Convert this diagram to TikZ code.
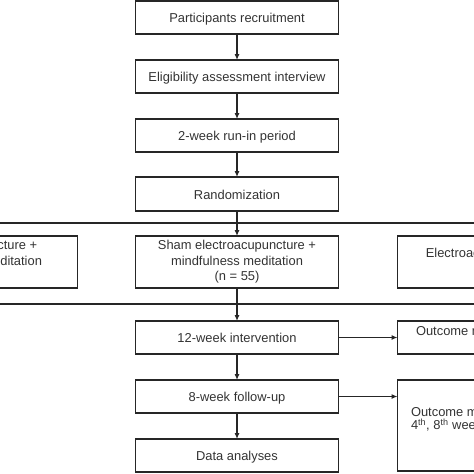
\documentclass[tikz,border=0pt]{standalone}
\usepackage{fontspec}
\setmainfont{Liberation Sans}
\usetikzlibrary{arrows.meta,positioning}

\begin{document}
\begin{tikzpicture}[x=1pt,y=-1pt,node distance=26pt,
	every node/.style={font=\fontsize{12.9}{15.5}\selectfont,text=black!80}]

	\tikzstyle{box}=[draw=black!85,line width=1.5pt,minimum width=203pt,minimum height=33pt,inner sep=0pt,outer sep=0pt,align=center]
	\tikzstyle{stepbox}=[box,text height=10pt,text depth=0pt]
	\tikzstyle{group}=[box,minimum height=52pt]
	\tikzstyle{link}=[line width=1.1pt,draw=black!85,-{Latex[length=6pt,width=5pt]}]
	\tikzstyle{frame}=[line width=1.3pt,draw=black!85]

	\useasboundingbox (0,0) rectangle (474,474);
	\clip (0,0) rectangle (474,474);

	% main flow
	\node[stepbox] (recruit) at (237,17.5) {Participants recruitment};
	\node[stepbox,below=of recruit] (elig) {Eligibility assessment interview};
	\node[stepbox,below=of elig] (runin) {2-week run-in period};
	\node[stepbox,below=25pt of runin,minimum height=34pt] (random) {Randomization};

	% arms
	\node[group,below=25pt of random] (sham) {Sham electroacupuncture +\\ mindfulness meditation\\ (n = 55)};
	\node[group,left=58pt of sham] (eamm) {Electroacupuncture +\\ mindfulness meditation\\ (n = 55)};
	\node[group,right=59pt of sham] (ea) {Electroacupuncture alone\\ (n = 55)};
	\draw[frame] (-20,223) rectangle (494,304);

	% follow-up
	\node[stepbox,below=33pt of sham] (twelve) {12-week intervention};
	\node[stepbox,below=of twelve] (follow) {8-week follow-up};
	\node[stepbox,below=of follow] (data) {Data analyses};

	% outcomes
	\node[box,right=59pt of twelve] (out1) {};
	\node[anchor=base west] (out1txt) at ([xshift=15pt,yshift=2pt]out1.west) {Outcome measurement};
	\node[box,below=of out1,minimum height=91pt] (out2) {};
	\node[anchor=north west,align=left,font=\fontsize{12.9}{13}\selectfont] (out2txt) at ([xshift=10pt,yshift=-24pt]out2.north west)
		{Outcome measurement\\ 4\textsuperscript{th}, 8\textsuperscript{th} week};

	\draw[link] (recruit) -- (elig);
	\draw[link] (elig) -- (runin);
	\draw[link] (runin) -- (random);
	\draw[link] (random) -- (sham);
	\draw[link] (sham) -- (twelve);
	\draw[link] (twelve) -- (follow);
	\draw[link] (follow) -- (data);
	\draw[link] (twelve) -- (out1);
	\draw[link] (follow.east) -- (follow.east -| out2.west);

\end{tikzpicture}
\end{document}
